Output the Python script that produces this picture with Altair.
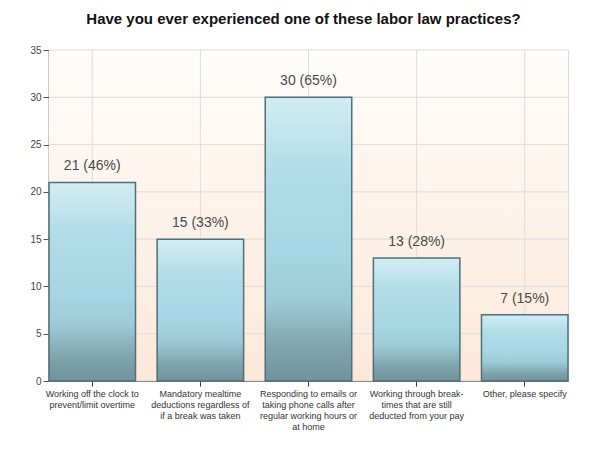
import altair as alt
import pandas as pd

categories = [
    "Working off the clock to|prevent/limit overtime",
    "Mandatory mealtime|deductions regardless of|if a break was taken",
    "Responding to emails or|taking phone calls after|regular working hours or|at home",
    "Working through break-|times that are still|deducted from your pay",
    "Other, please specify",
]
counts = [21, 15, 30, 13, 7]
percents = [46, 33, 65, 28, 15]
y_ticks = [0, 5, 10, 15, 20, 25, 30, 35]

W, H = 519, 331

df = pd.DataFrame({"cat": categories, "count": counts, "pct": percents})
df["label"] = [f"{c} ({p}%)" for c, p in zip(counts, percents)]
grid_df = pd.DataFrame({"count": y_ticks})
one = pd.DataFrame({"a": [0]})

bar_grad = alt.LinearGradient(
    gradient="linear", x1=0, y1=0, x2=0, y2=1,
    stops=[
        alt.GradientStop(color="#d3ecf3", offset=0.0),
        alt.GradientStop(color="#b2dde9", offset=0.25),
        alt.GradientStop(color="#a7d6e4", offset=0.55),
        alt.GradientStop(color="#9ccad6", offset=0.72),
        alt.GradientStop(color="#80a4ae", offset=0.88),
        alt.GradientStop(color="#6f929c", offset=1.0),
    ],
)
bg_grad = alt.LinearGradient(
    gradient="linear", x1=0, y1=0, x2=0, y2=1,
    stops=[
        alt.GradientStop(color="#fefdfb", offset=0.0),
        alt.GradientStop(color="#fdf3ea", offset=0.5),
        alt.GradientStop(color="#fce8d9", offset=1.0),
    ],
)

xscale = alt.Scale(paddingInner=0.2, paddingOuter=0, domain=categories)
yscale = alt.Scale(domain=[0, 35], nice=False)

xaxis = alt.Axis(
    title=None, labelAngle=0, labelExpr="split(datum.label, '|')",
    labelFontSize=9, labelColor="#333", labelFont="Liberation Sans",
    labelPadding=3, labelLineHeight=11, tickSize=5, tickColor="#333",
    domainColor="#333", grid=False, bandPosition=0.5, labelLimit=200,
)
yaxis = alt.Axis(
    title=None, values=y_ticks, labelFontSize=10, labelColor="#444",
    labelFont="Liberation Sans", tickSize=6, tickColor="#555",
    domainColor="#333", domainWidth=1.5, grid=False, labelPadding=2,
)

x = alt.X("cat:N", sort=categories, scale=xscale, axis=xaxis)
y = alt.Y("count:Q", scale=yscale, axis=yaxis)

bg = alt.Chart(one).mark_rect(fill=bg_grad).encode(
    x=alt.value(0), x2=alt.value(W), y=alt.value(0), y2=alt.value(H)
)
hgrid = alt.Chart(grid_df).mark_rule(color="#dddddd", strokeWidth=1).encode(y=y)
vgrid = alt.Chart(df).mark_rule(color="#dddddd", strokeWidth=1).encode(
    x=alt.X("cat:N", sort=categories, scale=xscale, bandPosition=0.5, axis=xaxis)
)

bars = alt.Chart(df).mark_bar(
    fill=bar_grad, stroke="#4f6f7a", strokeWidth=1.5
).encode(x=x, y=y)

text = alt.Chart(df).mark_text(
    baseline="bottom", dy=-9, fontSize=14, color="#4a4a4a", font="Liberation Sans"
).encode(x=x, y=y, text="label:N")

chart = (bg + hgrid + vgrid + bars + text).properties(
    width=W, height=H,
    title=alt.Title(
        "Have you ever experienced one of these labor law practices?",
        fontSize=15, font="Liberation Sans", fontWeight="bold", color="#111",
        anchor="middle", dx=-5, offset=18,
    ),
    autosize=alt.AutoSizeParams(type="none"),
    padding={"left": 49, "top": 50, "right": 32, "bottom": 70},
).configure_view(stroke=None).configure(background="white")

chart.save("out.html", embed_options={"renderer": "svg", "actions": False})
